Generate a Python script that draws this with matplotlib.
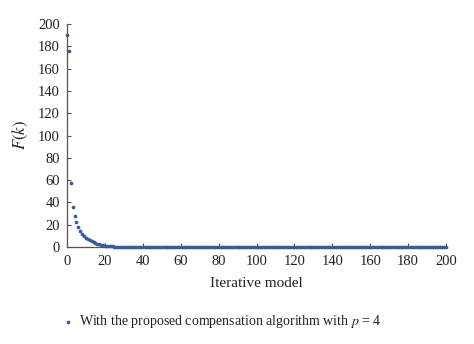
import matplotlib
matplotlib.use("Agg")
import matplotlib.pyplot as plt
import numpy as np

plt.rcParams["font.family"] = ["Liberation Serif", "DejaVu Serif"]
plt.rcParams["mathtext.fontset"] = "stix"

# Objective value F(k) at each iteration k = 0..200
early_values = [190, 176, 57, 36, 28, 22, 18, 14, 12, 10,
                8.5, 7.2, 6.0, 5.0, 4.2, 3.4, 2.8, 2.3, 1.9, 1.5,
                1.2, 1.0, 0.8, 0.6, 0.5]
tail_values = [0.3] * (201 - len(early_values))
f_values = early_values + tail_values
iterations = list(range(len(f_values)))

x_ticks = [0, 20, 40, 60, 80, 100, 120, 140, 160, 180, 200]
y_ticks = [0, 20, 40, 60, 80, 100, 120, 140, 160, 180, 200]

point_color = "#3b5a9c"
axis_color = "#555555"
text_color = "#222222"

fig = plt.figure(figsize=(4.74, 3.44), dpi=100)
ax = fig.add_axes([0.1414, 0.282, 0.7996, 0.648])

ax.scatter(iterations, f_values, s=7, color=point_color, linewidths=0,
           zorder=3, clip_on=False,
           label="With the proposed compensation algorithm with $p$ = 4")

ax.set_xlim(0, 200)
ax.set_ylim(0, 200)
ax.set_xticks(x_ticks)
ax.set_yticks(y_ticks)

for side in ("top", "right"):
    ax.spines[side].set_visible(False)
for side in ("left", "bottom"):
    ax.spines[side].set_color(axis_color)
    ax.spines[side].set_linewidth(0.9)

ax.tick_params(direction="in", length=3, width=0.8, color=axis_color,
               labelsize=10.5, labelcolor=text_color)
ax.tick_params(axis="x", pad=6)
ax.tick_params(axis="y", pad=5)

ax.set_xlabel("Iterative model", fontsize=11, color=text_color, labelpad=6)
ax.set_ylabel("$F(k)$", fontsize=12, color=text_color, labelpad=6)

leg = fig.legend(loc="center left", bbox_to_anchor=(0.128, 0.064), frameon=False,
                 fontsize=10, handlelength=1.0, handletextpad=0.3,
                 borderpad=0, borderaxespad=0, markerscale=1.0)
for t in leg.get_texts():
    t.set_color(text_color)

fig.savefig("out.png", dpi=100)
